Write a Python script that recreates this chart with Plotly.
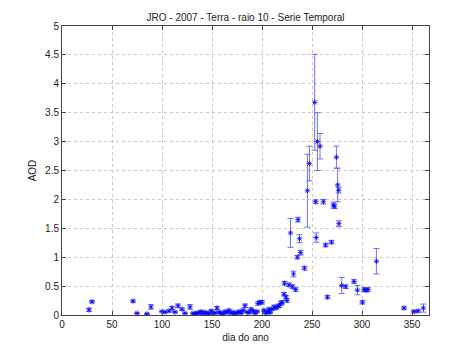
import plotly.graph_objects as go

title_text = "JRO - 2007 - Terra - raio 10 - Serie Temporal"
x_label = "dia do ano"
y_label = "AOD"

day = [27, 30, 71, 75, 85, 89, 100, 103, 107, 110, 113, 116, 120, 123, 128,
       131, 133, 135, 137, 139, 141, 143, 145, 147, 149, 151, 153, 155, 157,
       159, 161, 163, 165, 167, 169, 171, 173, 175, 177, 179, 181, 183, 185,
       187, 189, 191, 193, 195, 196, 198, 200, 202, 204, 206, 207, 208, 210,
       212, 214, 216, 217, 219, 220, 222, 222.5, 224, 225, 227, 228.5, 230.5,
       231.5, 233.7, 235.4, 236, 237.5, 238.7, 242.5, 245.4, 247.4, 252.7,
       253.7, 254.2, 255.4, 258, 261.4, 263.6, 265.4, 269.5, 271.4, 272.6,
       274.4, 275.7, 276.7, 276.9, 279.7, 283.7, 292, 295.4, 300.4, 302, 304,
       306, 314.4, 342, 352, 356, 361.4]
aod = [0.09, 0.23, 0.24, 0.03, 0.02, 0.14, 0.06, 0.05, 0.07, 0.12, 0.05, 0.16,
       0.10, 0.03, 0.14, 0.03, 0.02, 0.04, 0.03, 0.06, 0.02, 0.05, 0.03, 0.02,
       0.07, 0.04, 0.03, 0.12, 0.05, 0.03, 0.02, 0.06, 0.04, 0.08, 0.03, 0.05,
       0.02, 0.04, 0.06, 0.03, 0.08, 0.16, 0.05, 0.04, 0.10, 0.07, 0.03, 0.06,
       0.20, 0.22, 0.22, 0.08, 0.03, 0.06, 0.10, 0.04, 0.10, 0.14, 0.12, 0.15,
       0.16, 0.20, 0.22, 0.36, 0.55, 0.31, 0.25, 0.52, 1.42, 0.49, 0.71, 0.44,
       1.00, 1.65, 1.32, 1.08, 0.81, 2.15, 2.62, 3.68, 1.96, 1.34, 3.00, 2.92,
       1.96, 1.21, 0.31, 1.26, 1.90, 1.88, 2.73, 2.25, 2.16, 1.58, 0.51, 0.49,
       0.58, 0.43, 0.22, 0.44, 0.43, 0.44, 0.93, 0.12, 0.06, 0.07, 0.12]
err = [0.03, 0.02, 0.02, 0.01, 0.01, 0.04, 0.01, 0.01, 0.02, 0.03, 0.01, 0.03,
       0.02, 0.01, 0.04, 0.01, 0.01, 0.01, 0.01, 0.02, 0.01, 0.01, 0.01, 0.01,
       0.02, 0.01, 0.01, 0.03, 0.01, 0.01, 0.01, 0.02, 0.01, 0.02, 0.01, 0.01,
       0.01, 0.01, 0.02, 0.01, 0.02, 0.03, 0.01, 0.01, 0.02, 0.02, 0.01, 0.02,
       0.03, 0.03, 0.03, 0.02, 0.01, 0.02, 0.02, 0.01, 0.02, 0.03, 0.02, 0.02,
       0.03, 0.03, 0.03, 0.03, 0.03, 0.03, 0.03, 0.03, 0.25, 0.03, 0.05, 0.03,
       0.03, 0.04, 0.07, 0.04, 0.03, 0.63, 0.30, 0.83, 0.03, 0.08, 0.50, 0.22,
       0.04, 0.03, 0.03, 0.03, 0.05, 0.04, 0.19, 0.29, 0.05, 0.05, 0.14, 0.03,
       0.03, 0.08, 0.03, 0.03, 0.03, 0.03, 0.22, 0.02, 0.02, 0.02, 0.07]

x_ticks = [0, 50, 100, 150, 200, 250, 300, 350]
y_ticks = [0, 0.5, 1, 1.5, 2, 2.5, 3, 3.5, 4, 4.5, 5]
y_tick_text = ["0", "0.5", "1", "1.5", "2", "2.5", "3", "3.5", "4", "4.5", "5"]

fig = go.Figure()
fig.add_trace(go.Scatter(
    x=day, y=aod, mode="markers",
    marker=dict(symbol="asterisk-open", size=4.5, color="#0000ff",
                line=dict(color="#0000ff", width=0.8)),
    error_y=dict(type="data", array=err, visible=True, color="#6060ff",
                 thickness=0.9, width=3),
    showlegend=False,
))

axis_common = dict(
    showline=True, linecolor="#444444", linewidth=1, mirror="ticks",
    ticks="inside", ticklen=4, tickcolor="#444444",
    showgrid=True, gridcolor="#c8c8c8", griddash="dot", gridwidth=1,
    zeroline=False,
    tickfont=dict(family="Liberation Sans, Arial", size=10, color="#222222"),
    title_font=dict(family="Liberation Sans, Arial", size=10, color="#222222"),
)

fig.update_xaxes(range=[0, 367], tickvals=x_ticks, title_text=x_label,
                 title_standoff=4, **axis_common)
fig.update_yaxes(range=[0, 5], tickvals=y_ticks, ticktext=y_tick_text,
                 title_text=y_label, title_standoff=6, **axis_common)

fig.update_layout(
    width=474, height=355,
    margin=dict(l=62, r=45, t=26, b=40),
    paper_bgcolor="white", plot_bgcolor="white",
    title=dict(text=title_text, x=0.518, xanchor="center",
               y=1 - 17 / 355, yref="container", yanchor="middle",
               font=dict(family="Liberation Sans, Arial", size=10, color="#222222")),
)

fig.write_html("out.html")
